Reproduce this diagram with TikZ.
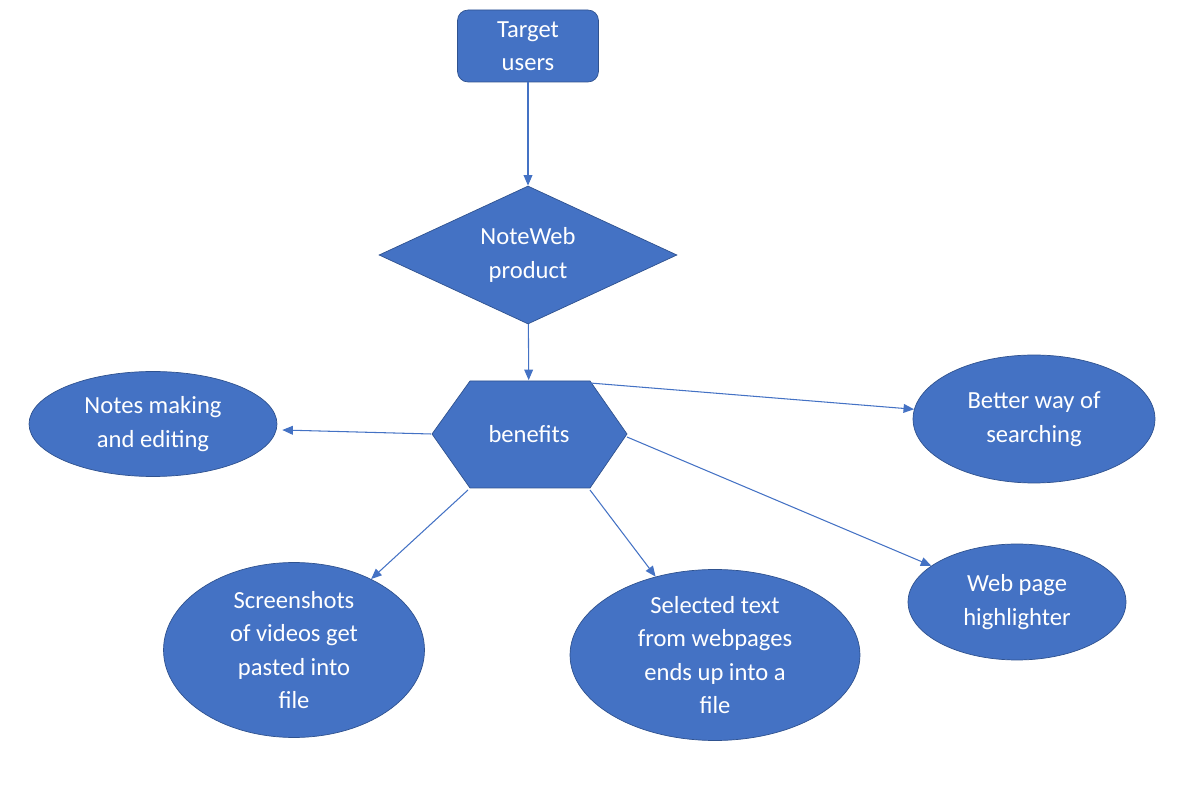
\documentclass[tikz,border=0pt]{standalone}
\usepackage{fontspec}
\setmainfont{Carlito}
\usetikzlibrary{positioning, arrows.meta, shapes.geometric, calc}
\definecolor{boxfill}{HTML}{4472C4}
\definecolor{boxline}{HTML}{2F528F}
\definecolor{arrowblue}{HTML}{4472C4}
\tikzset{main node/.style={fill=boxfill, draw=boxline, thin, text=white, align=center, font=\fontsize{14}{19}\selectfont, inner sep=1pt},
  oval node/.style={main node, ellipse},
  link/.style={draw=arrowblue, line width=0.6pt, -{Triangle[length=6pt, width=5pt]}},}

\begin{document}
\begin{tikzpicture}[x=0.02cm, y=-0.02cm]
			\useasboundingbox (0,0) rectangle (1200,786);
			% Shapes
			\node[main node, rounded corners=6pt, minimum width=2.82cm, minimum height=1.44cm] (target) at (528,46) {Target\\users};
			\node[main node, diamond, aspect=2.16, minimum width=5.96cm, minimum height=2.76cm, inner sep=0pt] (product) at (528,255) {NoteWeb\\product};
			\draw[fill=boxfill, draw=boxline, thin] (432,434) -- (470,381) -- (590,381) -- (627,434) -- (590,488) -- (470,488) -- cycle;
			\node[main node, fill=none, draw=none, minimum width=3.9cm, minimum height=2.14cm] (benefits) at (529,434) {benefits};
			\coordinate (hexNE) at (590,383);
			\coordinate (hexE) at (627,437);
			\coordinate (hexSW) at (468,490);
			\coordinate (hexSE) at (590,490);
			\node[oval node, minimum width=4.96cm, minimum height=2.1cm] (notes) at (153,424) {Notes making\\and editing};
			\node[oval node, minimum width=4.84cm, minimum height=2.56cm] (search) at (1034,419) {Better way of\\searching};
			\node[oval node, minimum width=4.36cm, minimum height=2.32cm] (highlight) at (1017,602) {Web page\\highlighter};
			\node[oval node, minimum width=5.22cm, minimum height=3.5cm] (shots) at (294,650) {Screenshots\\of videos get\\pasted into\\file};
			\node[oval node, minimum width=5.8cm, minimum height=3.32cm] (selected) at (715,655) {Selected text\\from webpages\\ends up into a\\file};

			% Paths
			\draw[link] (target) -- (product);
			\draw[link] (product) -- (benefits);
			\draw[link] (benefits.west) -- ($(notes.east)+(5,6)$);
			\draw[link] (hexNE) -- (search);
			\draw[link] (hexE) -- (highlight);
			\draw[link] (hexSW) -- (shots);
			\draw[link] (hexSE) -- (selected);
		\end{tikzpicture}
\end{document}
